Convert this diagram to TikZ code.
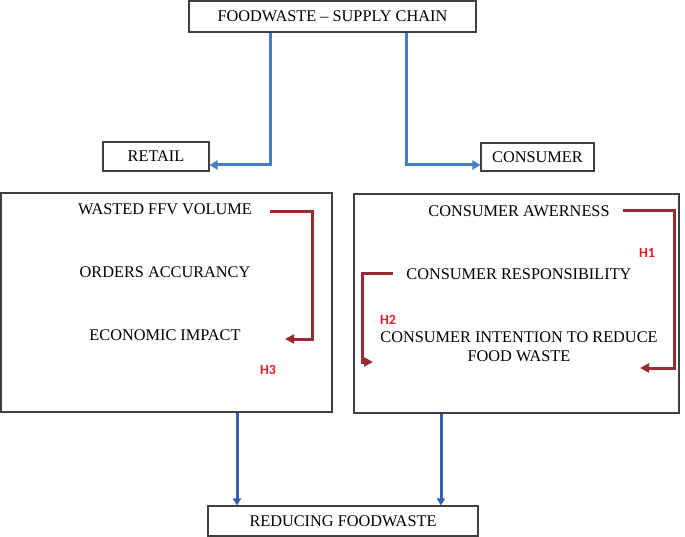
\documentclass[tikz,border=0pt]{standalone}
\usepackage{fontspec}
\setmainfont{Liberation Serif}
\newfontfamily\hfont{Carlito}
\usetikzlibrary{arrows.meta}
\definecolor{linkblue}{RGB}{70,125,195}
\definecolor{downblue}{RGB}{50,95,175}
\definecolor{hypred}{RGB}{150,45,50}
\definecolor{hlabel}{RGB}{230,30,40}
\tikzset{
  box/.style={draw=black!75,line width=1.1pt,inner sep=0pt},
  link/.style={draw=linkblue,line width=3pt,-{Triangle[length=8pt,width=9pt]}},
  down/.style={draw=downblue,line width=3pt,-{Triangle[length=7pt,width=8pt]}},
  hyp/.style={draw=hypred,line width=3pt,-{Triangle[length=9pt,width=9pt]}},
  hlab/.style={text=hlabel,font=\hfont\bfseries\fontsize{14}{16}\selectfont},
  big/.style={font=\fontsize{16.3}{19}\selectfont}
}
\begin{document}
\begin{tikzpicture}[x=1pt,y=-1pt]
\useasboundingbox (0,0) rectangle (685,537);
\node[box,big,minimum width=287pt,minimum height=31pt] (chain) at (332.5,16.5) {FOODWASTE -- SUPPLY CHAIN};
\node[box,big,minimum width=106pt,minimum height=29pt] (retail) at (156,156.5) {RETAIL};
\node[box,big,minimum width=113pt,minimum height=28pt] (consumer) at (537.5,157) {CONSUMER};
\node[box,minimum width=331pt,minimum height=219pt] (retailbox) at (166.5,302.5) {};
\node[box,minimum width=325pt,minimum height=219pt] (consumerbox) at (516.5,303.5) {};
\node[box,big,minimum width=270pt,minimum height=30pt] (reduce) at (343,521) {REDUCING FOODWASTE};

\node[big] (wasted) at (165,209) {WASTED FFV VOLUME};
\node[big] (orders) at (165,272) {ORDERS ACCURANCY};
\node[big] (impact) at (165,335) {ECONOMIC IMPACT};
\node[hlab] (h3) at (268,370) {H3};

\node[big] (awareness) at (519,211) {CONSUMER AWERNESS};
\node[big] (respons) at (519,274) {CONSUMER RESPONSIBILITY};
\node[big,align=center] (intention) at (519,347) {CONSUMER INTENTION TO REDUCE\\FOOD WASTE};
\node[hlab] (h1) at (647,253) {H1};
\node[hlab] (h2) at (388,320) {H2};

\coordinate (h3turn) at (312,212);
\coordinate (h3end) at (285,339);
\coordinate (h1turn) at (674,211);
\coordinate (h1end) at (640,368);
\coordinate (h2turn) at (362,274);
\coordinate (h2end) at (373,362);

\draw[link] ([xshift=-62.5pt]chain.south) |- ([yshift=-8.5pt]retail.east);
\draw[link] ([xshift=73.5pt]chain.south) |- ([yshift=-8pt]consumer.west);
\draw[down] ([xshift=70.5pt]retailbox.south) -- ([xshift=-106pt]reduce.north);
\draw[down] ([xshift=-75.5pt]consumerbox.south) -- ([xshift=98pt]reduce.north);

\draw[hyp] ([xshift=15pt,yshift=-3pt]wasted.east) -- (h3turn) |- (h3end);
\draw[hyp] ([xshift=10pt]awareness.east) -- (h1turn) |- (h1end);
\draw[hyp] ([xshift=-10pt]respons.west) -- (h2turn) |- (h2end);
\end{tikzpicture}
\end{document}
